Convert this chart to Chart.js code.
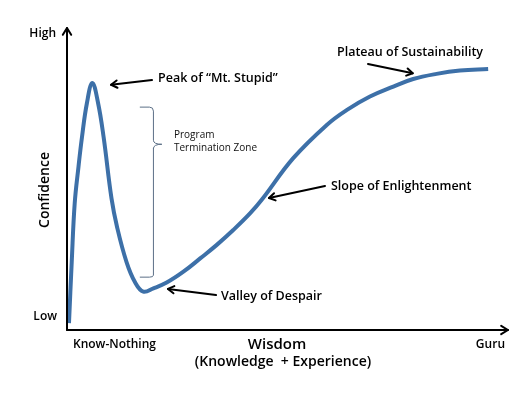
<!DOCTYPE html>
<html>
<head>
<meta charset="utf-8">
<script src="https://cdn.jsdelivr.net/npm/chart.js@4"></script>
<style>
  html, body { margin: 0; padding: 0; background: #fff; }
  #wrap { width: 525px; height: 395px; }
</style>
</head>
<body>
<div id="wrap"><canvas id="dk" width="525" height="395"></canvas></div>
<script>
// wisdom (0-100) and confidence (0-100)
const wisdom = [0.45, 1.07, 1.75, 2.6, 3.4, 4.5, 5.74, 7.0, 8.3, 10.1, 11.4, 13.5, 15.4, 17.3, 19.6, 22.6, 26.4, 30.2, 33.9, 37.7, 41.5, 44.2, 51.3, 58.9, 63.4, 68.7, 74.0, 78.5, 83.8, 89.1, 95.5];
const confidence = [2.3, 22.5, 42.0, 54.0, 63.9, 75.0, 81.8, 75.5, 63.9, 43.5, 33.8, 22.5, 15.9, 12.7, 13.8, 15.7, 19.3, 23.7, 28.1, 33.1, 38.6, 43.2, 56.9, 67.9, 72.8, 77.3, 80.6, 83.1, 84.8, 85.9, 86.4];

const yTickLabels = ['Low', 'High'];
const xTickLabels = ['Know-Nothing', 'Guru'];

// callouts: text, where the text sits (px), arrow tail (px), arrow tip (data)
const callouts = [
  { text: 'Peak of \u201cMt. Stupid\u201d', tx: 158, ty: 78, from: [152, 80], tip: [10.0, 81.2] },
  { text: 'Valley of Despair', tx: 221, ty: 296, from: [216, 295], tip: [22.9, 13.6] },
  { text: 'Slope of Enlightenment', tx: 331, ty: 186, from: [325, 186], tip: [45.8, 43.7] },
  { text: 'Plateau of Sustainability', tx: 337, ty: 52, from: [368, 64], tip: [78.4, 85.0] }
];

const dkCurve = wisdom.map((w, i) => ({ x: w, y: confidence[i] }));

function arrow(ctx, x1, y1, x2, y2, head) {
  const a = Math.atan2(y2 - y1, x2 - x1);
  ctx.beginPath();
  ctx.moveTo(x1, y1);
  ctx.lineTo(x2, y2);
  ctx.stroke();
  ctx.beginPath();
  ctx.moveTo(x2 - head * Math.cos(a - 0.55), y2 - head * Math.sin(a - 0.55));
  ctx.lineTo(x2, y2);
  ctx.lineTo(x2 - head * Math.cos(a + 0.55), y2 - head * Math.sin(a + 0.55));
  ctx.stroke();
}

const FONT = '"Open Sans", "Noto Sans", sans-serif';

const decor = {
  id: 'decor',
  afterDatasetsDraw(chart) {
    const { ctx, chartArea: ca, scales: { x, y } } = chart;
    ctx.save();
    ctx.strokeStyle = '#000';
    ctx.fillStyle = '#000';
    ctx.lineCap = 'round';
    ctx.lineJoin = 'round';

    // axes with arrowheads
    ctx.lineWidth = 2;
    arrow(ctx, ca.left, ca.bottom, ca.left, ca.top, 8);
    arrow(ctx, ca.left, ca.bottom, ca.right, ca.bottom, 8);

    // axis end labels
    ctx.font = '600 12px ' + FONT;
    ctx.textBaseline = 'middle';
    ctx.textAlign = 'right';
    ctx.fillText(yTickLabels[1], ca.left - 11, ca.top + 6);
    ctx.fillText(yTickLabels[0], ca.left - 10, ca.bottom - 13);
    ctx.textAlign = 'left';
    ctx.fillText(xTickLabels[0], ca.left + 6, ca.bottom + 15);
    ctx.textAlign = 'right';
    ctx.fillText(xTickLabels[1], ca.right - 3, ca.bottom + 15);

    // axis titles
    ctx.textAlign = 'center';
    ctx.font = '600 15px ' + FONT;
    ctx.fillText('Wisdom', 277, ca.bottom + 15);
    ctx.font = '600 14px ' + FONT;
    ctx.fillText('(Knowledge  + Experience)', 283, ca.bottom + 32);
    ctx.save();
    ctx.translate(45, 190);
    ctx.rotate(-Math.PI / 2);
    ctx.font = '600 14px ' + FONT;
    ctx.fillText('Confidence', 0, 0);
    ctx.restore();

    // callouts
    ctx.font = '600 12.5px ' + FONT;
    ctx.textAlign = 'left';
    ctx.lineWidth = 2;
    callouts.forEach(c => {
      ctx.fillText(c.text, c.tx, c.ty);
      arrow(ctx, c.from[0], c.from[1], x.getPixelForValue(c.tip[0]), y.getPixelForValue(c.tip[1]), 7);
    });

    // program termination zone brace
    const bx = x.getPixelForValue(19.6);
    const bl = x.getPixelForValue(16.6);
    const bTop = y.getPixelForValue(73.8);
    const bBot = y.getPixelForValue(17.5);
    const bMid = y.getPixelForValue(61.5);
    ctx.strokeStyle = '#5b6f86';
    ctx.lineWidth = 1;
    ctx.beginPath();
    ctx.moveTo(bl, bTop);
    ctx.lineTo(bx - 4, bTop);
    ctx.quadraticCurveTo(bx, bTop, bx, bTop + 4);
    ctx.lineTo(bx, bMid - 4);
    ctx.quadraticCurveTo(bx, bMid, bx + 8, bMid);
    ctx.moveTo(bx, bMid + 4);
    ctx.quadraticCurveTo(bx, bMid, bx + 8, bMid);
    ctx.moveTo(bx, bMid + 4);
    ctx.lineTo(bx, bBot - 2);
    ctx.quadraticCurveTo(bx, bBot, bx - 4, bBot);
    ctx.lineTo(bl, bBot);
    ctx.stroke();

    ctx.fillStyle = '#111';
    ctx.font = '10px ' + FONT;
    ctx.fillText('Program', 174, 135);
    ctx.fillText('Termination Zone', 174, 148);
    ctx.restore();
  }
};

new Chart(document.getElementById('dk').getContext('2d'), {
  type: 'scatter',
  data: {
    datasets: [{
      label: 'Confidence',
      data: dkCurve,
      showLine: true,
      borderColor: '#3d70a8',
      borderWidth: 4,
      pointRadius: 0,
      tension: 0.4,
      fill: false
    }]
  },
  options: {
    responsive: false,
    animation: false,
    layout: { padding: { left: 67, top: 28, right: 17, bottom: 65 } },
    scales: {
      x: { display: false, min: 0, max: 100 },
      y: { display: false, min: 0, max: 100 }
    },
    plugins: { legend: { display: false }, tooltip: { enabled: false } }
  },
  plugins: [decor]
});
</script>
</body>
</html>
